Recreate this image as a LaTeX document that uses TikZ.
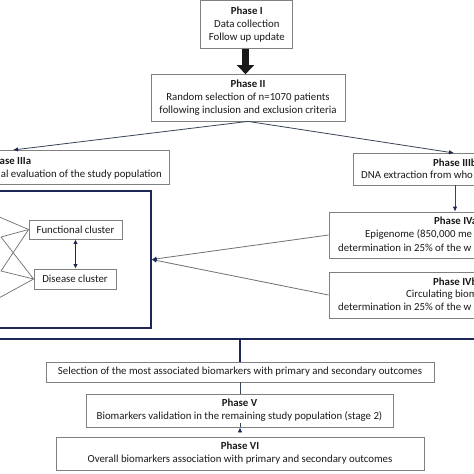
\documentclass[tikz,border=0pt]{standalone}
\usepackage{fontspec}
\setmainfont{Carlito}
\usetikzlibrary{arrows.meta}
\definecolor{boxgray}{HTML}{808080}
\definecolor{txt}{HTML}{1A1A1A}
\definecolor{navy}{HTML}{1C2757}
\definecolor{lnk}{HTML}{3A4258}
\definecolor{thin}{HTML}{707070}
\tikzset{
  box/.style={draw=boxgray, line width=0.8pt, inner sep=0pt, align=center, text=txt,
    font=\fontsize{10.8}{13}\selectfont},
  lbl/.style={inner sep=0pt, text=txt, font=\fontsize{10.8}{13}\selectfont},
  link/.style={draw=lnk, line width=0.8pt, -{Latex[length=5pt,width=4.5pt,color=navy]}},
  graylink/.style={draw=thin, line width=0.7pt},
  navyline/.style={draw=navy, line width=1.8pt},
  bigarrow/.style={draw=black!90, line width=7pt, -{Triangle[width=17pt,length=9pt]}, shorten >=-0.5pt},
}
\begin{document}
\begin{tikzpicture}[x=1pt,y=-1pt]
\useasboundingbox (0,0) rectangle (474,474);
\fill[white] (0,0) rectangle (474,474);
\clip (0,0) rectangle (474,474);

% top boxes
\node[box, minimum width=92pt, minimum height=48pt] (p1) at (246.8,24.5)
  {\textbf{Phase I}\\Data collection\\Follow up update};
\node[box, minimum width=194pt, minimum height=47pt] (p2) at (248,97.5)
  {\textbf{Phase II}\\Random selection of n=1070 patients\\following inclusion and exclusion criteria};
\draw[bigarrow] (p1.south -| 245.5,0) -- (p2.north -| 245.5,0);

% Phase IIIa (cut at left)
\node[box, minimum width=229pt, minimum height=34pt] (p3a) at (54.5,167) {};
\node[lbl, anchor=base west] (p3a1) at (-0.5,164.5) {\textbf{ase IIIa}};
\node[lbl, anchor=base east] (p3a2) at (162,177.5) {al evaluation of the study population};

% Phase IIIb (cut at right)
\node[box, minimum width=204pt, minimum height=32pt] (p3b) at (455,169) {};
\node[lbl, anchor=base west] (p3b1) at (433,166.5) {\textbf{Phase IIIb}};
\node[lbl, anchor=base west] (p3b2) at (361,178.5) {DNA extraction from who};

% Phase IVa
\node[box, minimum width=231pt, minimum height=46pt] (p4a) at (444.5,235) {};
\node[lbl, anchor=base west] (p4a1) at (434,224.5) {\textbf{Phase IVa}};
\node[lbl, anchor=base west] (p4a2) at (365,237.5) {Epigenome (850,000 me};
\node[lbl, anchor=base west] (p4a3) at (338,251.5) {determination in 25\% of the w};

% Phase IVb
\node[box, minimum width=231pt, minimum height=46pt] (p4b) at (444.5,295) {};
\node[lbl, anchor=base west] (p4b1) at (433,285.5) {\textbf{Phase IVb}};
\node[lbl, anchor=base west] (p4b2) at (406,297.5) {Circulating biom};
\node[lbl, anchor=base west] (p4b3) at (338,310.5) {determination in 25\% of the w};

% left panel
\node[draw=navy, line width=1.2pt, minimum width=171pt, minimum height=137pt, inner sep=0pt] (panel) at (65.5,259.5) {};
\node[box, minimum width=93pt, minimum height=19pt] (fc) at (75.5,229.5) {Functional cluster};
\node[box, minimum width=82pt, minimum height=20pt] (dc) at (75,279) {Disease cluster};
\draw[draw=navy, line width=0.9pt, {Latex[length=4.5pt,width=4.5pt]}-{Latex[length=4.5pt,width=4.5pt]}] (fc.south) -- (fc.south |- dc.north);

\coordinate (la) at (-3,216);
\coordinate (lb) at (1,237);
\coordinate (lc) at (1,271);
\coordinate (ld) at (-3,299);
\draw[graylink] (la) -- (fc.west);
\draw[graylink] (lb) -- (fc.west);
\draw[graylink] (lb) -- (dc.west);
\draw[graylink] (lc) -- (fc.west);
\draw[graylink] (lc) -- (dc.west);
\draw[graylink] (ld) -- (dc.west);

% Phase II to III
\coordinate (tl) at (13,150);
\coordinate (tr) at (454,153);
\draw[link] (p2.south) -- (tl);
\draw[link] (p2.south) -- (tr);
\draw[link] (p3b.south) -- (p3b.south |- p4a.north);

% IV to panel
\draw[link, draw=thin] (p4a.west) -- (panel.east);
\draw[link, draw=thin] (p4b.west) -- (panel.east);

% bottom part
\coordinate (h1) at (-2,339);
\coordinate (h2) at (476,339);
\draw[navyline] (h1) -- (h2);
\node[box, minimum width=388pt, minimum height=20pt] (sel) at (240,372)
  {Selection of the most associated biomarkers with primary and secondary outcomes};
\draw[navyline] (sel.north |- h1) -- (sel.north);
\node[box, minimum width=307pt, minimum height=33pt] (p5) at (239.5,410.5)
  {\textbf{Phase V}\\Biomarkers validation in the remaining study population (stage 2)};
\node[box, minimum width=368pt, minimum height=33pt] (p6) at (240,453.5)
  {\textbf{Phase VI}\\Overall biomarkers association with primary and secondary outcomes};
\draw[graylink, draw=lnk] (sel.south) -- (sel.south |- p5.north);
\draw[link] (p5.south -| sel.south) -- (p5.south -| sel.south |- p6.north);
\end{tikzpicture}
\end{document}
